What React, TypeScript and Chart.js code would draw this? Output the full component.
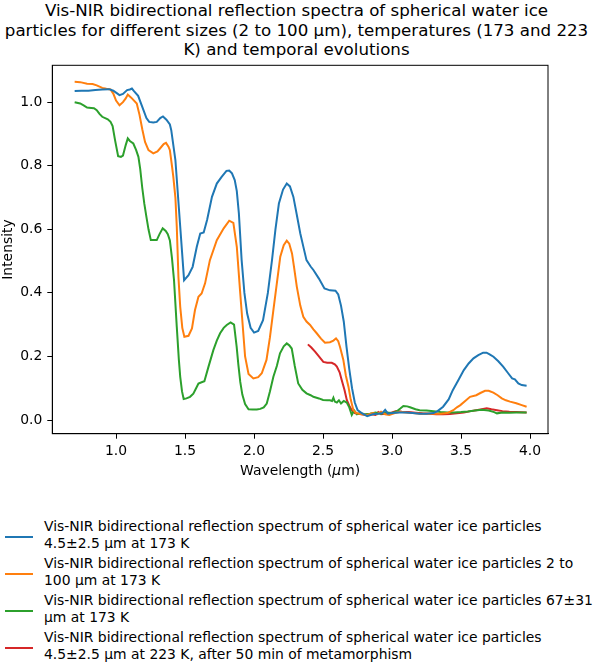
import React, { useEffect, useRef } from "react";
import { Chart, registerables } from "chart.js";
Chart.register(...registerables);

const FONT = "'DejaVu Sans', sans-serif";

const TITLE_LINES = [
  "Vis-NIR bidirectional reflection spectra of spherical water ice",
  "particles for different sizes (2 to 100 µm), temperatures (173 and 223",
  "K) and temporal evolutions",
];

const X_TICKS = [1.0, 1.5, 2.0, 2.5, 3.0, 3.5, 4.0];
const Y_TICKS = [0.0, 0.2, 0.4, 0.6, 0.8, 1.0];

const SERIES_LABELS = [
  "Vis-NIR bidirectional reflection spectrum of spherical water ice particles\n4.5±2.5 µm at 173 K",
  "Vis-NIR bidirectional reflection spectrum of spherical water ice particles 2 to\n100 µm at 173 K",
  "Vis-NIR bidirectional reflection spectrum of spherical water ice particles 67±31\nµm at 173 K",
  "Vis-NIR bidirectional reflection spectrum of spherical water ice particles\n4.5±2.5 µm at 223 K, after 50 min of metamorphism",
];
const SERIES_COLORS = ["#1f77b4", "#ff7f0e", "#2ca02c", "#d62728"];

const blueX = [0.70, 0.75, 0.80, 0.85, 0.90, 0.95, 0.98, 1.00, 1.025, 1.05, 1.08, 1.10, 1.115, 1.13, 1.16, 1.19, 1.22, 1.24, 1.27, 1.295, 1.32, 1.34, 1.365, 1.39, 1.40, 1.43, 1.465, 1.493, 1.525, 1.555, 1.585, 1.61, 1.635, 1.66, 1.695, 1.73, 1.765, 1.80, 1.82, 1.84, 1.86, 1.875, 1.89, 1.91, 1.93, 1.95, 1.975, 2.00, 2.03, 2.065, 2.10, 2.13, 2.155, 2.18, 2.21, 2.237, 2.26, 2.285, 2.31, 2.335, 2.36, 2.38, 2.41, 2.43, 2.47, 2.51, 2.55, 2.59, 2.61, 2.63, 2.65, 2.67, 2.69, 2.71, 2.73, 2.75, 2.78, 2.82, 2.86, 2.90, 2.93, 2.95, 2.97, 3.00, 3.05, 3.10, 3.15, 3.20, 3.25, 3.30, 3.33, 3.37, 3.41, 3.44, 3.48, 3.52, 3.555, 3.59, 3.625, 3.66, 3.685, 3.71, 3.735, 3.77, 3.805, 3.84, 3.87, 3.89, 3.915, 3.94, 3.975];
const blueY = [1.035, 1.036, 1.036, 1.038, 1.040, 1.041, 1.036, 1.030, 1.022, 1.026, 1.038, 1.040, 1.043, 1.035, 1.020, 0.985, 0.950, 0.938, 0.936, 0.938, 0.950, 0.955, 0.945, 0.930, 0.912, 0.818, 0.608, 0.440, 0.456, 0.482, 0.545, 0.587, 0.590, 0.630, 0.702, 0.744, 0.765, 0.784, 0.785, 0.776, 0.755, 0.720, 0.650, 0.503, 0.400, 0.335, 0.290, 0.275, 0.280, 0.314, 0.400, 0.503, 0.600, 0.681, 0.725, 0.744, 0.735, 0.702, 0.645, 0.587, 0.540, 0.503, 0.483, 0.472, 0.445, 0.414, 0.408, 0.407, 0.395, 0.360, 0.310, 0.230, 0.160, 0.100, 0.055, 0.031, 0.022, 0.012, 0.018, 0.020, 0.022, 0.032, 0.020, 0.022, 0.024, 0.024, 0.022, 0.020, 0.020, 0.022, 0.028, 0.042, 0.065, 0.094, 0.125, 0.157, 0.178, 0.194, 0.204, 0.212, 0.212, 0.206, 0.199, 0.185, 0.168, 0.148, 0.131, 0.128, 0.115, 0.110, 0.108];

const orangeX = [0.70, 0.74, 0.79, 0.83, 0.86, 0.90, 0.93, 0.96, 0.98, 1.00, 1.025, 1.05, 1.07, 1.085, 1.10, 1.115, 1.15, 1.17, 1.19, 1.21, 1.235, 1.27, 1.30, 1.32, 1.345, 1.362, 1.38, 1.39, 1.405, 1.415, 1.43, 1.44, 1.452, 1.465, 1.48, 1.495, 1.525, 1.55, 1.572, 1.597, 1.62, 1.645, 1.68, 1.73, 1.78, 1.82, 1.85, 1.875, 1.90, 1.935, 1.96, 1.995, 2.03, 2.056, 2.09, 2.115, 2.14, 2.165, 2.19, 2.215, 2.237, 2.255, 2.275, 2.29, 2.31, 2.335, 2.357, 2.38, 2.406, 2.43, 2.454, 2.485, 2.514, 2.55, 2.575, 2.594, 2.61, 2.623, 2.647, 2.665, 2.684, 2.70, 2.72, 2.74, 2.78, 2.82, 2.86, 2.89, 2.92, 2.95, 2.98, 3.02, 3.06, 3.10, 3.15, 3.20, 3.25, 3.30, 3.35, 3.40, 3.444, 3.47, 3.495, 3.53, 3.565, 3.61, 3.64, 3.674, 3.70, 3.734, 3.765, 3.795, 3.825, 3.855, 3.90, 3.94, 3.975];
const orangeY = [1.064, 1.063, 1.058, 1.057, 1.053, 1.045, 1.042, 1.040, 1.027, 1.005, 0.990, 1.000, 1.012, 1.024, 1.018, 1.012, 0.996, 0.960, 0.915, 0.875, 0.849, 0.839, 0.845, 0.855, 0.868, 0.872, 0.860, 0.849, 0.800, 0.765, 0.700, 0.608, 0.450, 0.356, 0.290, 0.262, 0.265, 0.288, 0.346, 0.388, 0.398, 0.430, 0.503, 0.566, 0.603, 0.627, 0.620, 0.545, 0.398, 0.200, 0.145, 0.131, 0.135, 0.147, 0.189, 0.260, 0.346, 0.430, 0.514, 0.550, 0.564, 0.555, 0.524, 0.480, 0.419, 0.360, 0.325, 0.310, 0.299, 0.285, 0.273, 0.256, 0.243, 0.245, 0.250, 0.257, 0.248, 0.230, 0.189, 0.140, 0.105, 0.065, 0.031, 0.022, 0.018, 0.016, 0.022, 0.018, 0.026, 0.018, 0.016, 0.022, 0.026, 0.024, 0.022, 0.020, 0.020, 0.020, 0.020, 0.022, 0.031, 0.040, 0.047, 0.060, 0.073, 0.078, 0.085, 0.092, 0.092, 0.086, 0.078, 0.068, 0.062, 0.058, 0.053, 0.047, 0.042];

const greenX = [0.70, 0.74, 0.765, 0.79, 0.82, 0.84, 0.86, 0.88, 0.90, 0.94, 0.96, 0.975, 0.993, 1.015, 1.035, 1.05, 1.07, 1.085, 1.10, 1.125, 1.145, 1.162, 1.175, 1.19, 1.205, 1.22, 1.235, 1.252, 1.275, 1.295, 1.315, 1.338, 1.36, 1.375, 1.39, 1.405, 1.42, 1.44, 1.455, 1.465, 1.478, 1.49, 1.51, 1.536, 1.56, 1.58, 1.597, 1.62, 1.64, 1.67, 1.705, 1.73, 1.754, 1.78, 1.802, 1.83, 1.855, 1.874, 1.886, 1.90, 1.915, 1.935, 1.96, 1.99, 2.02, 2.045, 2.07, 2.092, 2.115, 2.14, 2.165, 2.188, 2.215, 2.237, 2.255, 2.273, 2.295, 2.32, 2.35, 2.38, 2.41, 2.43, 2.47, 2.50, 2.53, 2.55, 2.565, 2.575, 2.585, 2.60, 2.615, 2.63, 2.65, 2.672, 2.69, 2.708, 2.725, 2.745, 2.77, 2.80, 2.84, 2.88, 2.92, 2.96, 3.00, 3.03, 3.06, 3.082, 3.11, 3.13, 3.17, 3.20, 3.25, 3.30, 3.35, 3.40, 3.45, 3.50, 3.55, 3.60, 3.65, 3.70, 3.74, 3.76, 3.80, 3.85, 3.90, 3.975];
const greenY = [1.000, 0.996, 0.990, 0.983, 0.982, 0.981, 0.975, 0.963, 0.954, 0.946, 0.938, 0.925, 0.880, 0.830, 0.828, 0.832, 0.865, 0.886, 0.878, 0.870, 0.850, 0.828, 0.790, 0.730, 0.680, 0.639, 0.600, 0.566, 0.566, 0.566, 0.585, 0.603, 0.595, 0.585, 0.565, 0.510, 0.440, 0.293, 0.190, 0.136, 0.090, 0.066, 0.068, 0.073, 0.083, 0.100, 0.115, 0.119, 0.122, 0.168, 0.220, 0.250, 0.273, 0.290, 0.299, 0.307, 0.300, 0.230, 0.175, 0.120, 0.080, 0.050, 0.034, 0.033, 0.033, 0.035, 0.040, 0.052, 0.090, 0.136, 0.170, 0.210, 0.232, 0.241, 0.235, 0.225, 0.170, 0.115, 0.095, 0.084, 0.078, 0.073, 0.068, 0.063, 0.062, 0.062, 0.060, 0.070, 0.058, 0.055, 0.062, 0.052, 0.060, 0.055, 0.040, 0.016, 0.030, 0.018, 0.022, 0.018, 0.020, 0.024, 0.020, 0.024, 0.022, 0.026, 0.036, 0.044, 0.043, 0.040, 0.034, 0.031, 0.030, 0.028, 0.025, 0.024, 0.024, 0.025, 0.027, 0.030, 0.032, 0.030, 0.025, 0.021, 0.024, 0.023, 0.024, 0.024];

const redX = [2.39, 2.415, 2.442, 2.47, 2.502, 2.53, 2.563, 2.585, 2.60, 2.62, 2.635, 2.655, 2.672, 2.69, 2.708, 2.73, 2.75, 2.78, 2.81, 2.85, 2.88, 2.90, 2.92, 2.95, 2.99, 3.03, 3.07, 3.12, 3.17, 3.22, 3.27, 3.32, 3.37, 3.42, 3.47, 3.52, 3.57, 3.61, 3.65, 3.686, 3.72, 3.76, 3.80, 3.85, 3.90, 3.975];
const redY = [0.238, 0.228, 0.215, 0.200, 0.183, 0.180, 0.180, 0.175, 0.168, 0.150, 0.126, 0.095, 0.063, 0.045, 0.031, 0.022, 0.020, 0.018, 0.016, 0.018, 0.016, 0.025, 0.018, 0.020, 0.022, 0.028, 0.026, 0.025, 0.023, 0.021, 0.020, 0.018, 0.018, 0.019, 0.021, 0.024, 0.028, 0.031, 0.034, 0.037, 0.034, 0.031, 0.028, 0.026, 0.025, 0.024];

const SERIES_X = [blueX, orangeX, greenX, redX];
const SERIES_Y = [blueY, orangeY, greenY, redY];

const X_MIN = 0.538;
const X_MAX = 4.13;
const Y_MIN = -0.043;
const Y_MAX = 1.116;

const W = 593;
const CANVAS_H = 470;
const PLOT_LEFT = 52.3;
const PLOT_RIGHT = 548;
const PLOT_TOP = 65.3;
const PLOT_BOTTOM = 433.7;

export default function App() {
  const ref = useRef<HTMLCanvasElement>(null);

  useEffect(() => {
    document.body.style.margin = "0";
    const canvas = ref.current;
    if (!canvas) return;
    const frame = {
      id: "frame",
      afterDraw(chart: any) {
        const { ctx, chartArea: a } = chart;
        ctx.save();
        ctx.strokeStyle = "#000";
        ctx.lineWidth = 1;
        ctx.strokeRect(a.left, a.top, a.right - a.left, a.bottom - a.top);
        ctx.restore();
      },
    };
    const tickFont = { family: FONT, size: 13.9 };
    const chart = new Chart(canvas, {
      type: "line",
      data: {
        datasets: SERIES_X.map((xs, i) => ({
          label: SERIES_LABELS[i],
          data: xs.map((x, j) => ({ x, y: SERIES_Y[i][j] })),
          borderColor: SERIES_COLORS[i],
          backgroundColor: SERIES_COLORS[i],
          borderWidth: 2,
          pointRadius: 0,
          tension: 0,
          fill: false,
        })),
      },
      options: {
        responsive: false,
        animation: false,
        layout: { padding: { left: 0, right: W - PLOT_RIGHT, top: PLOT_TOP, bottom: 0 } },
        plugins: {
          legend: { display: false },
          tooltip: { enabled: false },
          title: { display: false },
        },
        scales: {
          x: {
            type: "linear",
            min: X_MIN,
            max: X_MAX,
            afterBuildTicks: (scale: any) => {
              scale.ticks = X_TICKS.map((value) => ({ value }));
            },
            afterFit: (scale: any) => {
              scale.height = CANVAS_H - PLOT_BOTTOM;
            },
            grid: { drawOnChartArea: false, drawTicks: true, tickLength: 5, color: "#000" },
            border: { color: "#000", width: 1 },
            ticks: {
              color: "#000",
              font: tickFont,
              padding: 4,
              maxRotation: 0,
              autoSkip: false,
              callback: (v: any) => Number(v).toFixed(1),
            },
          },
          y: {
            type: "linear",
            min: Y_MIN,
            max: Y_MAX,
            afterBuildTicks: (scale: any) => {
              scale.ticks = Y_TICKS.map((value) => ({ value }));
            },
            afterFit: (scale: any) => {
              scale.width = PLOT_LEFT;
            },
            grid: { drawOnChartArea: false, drawTicks: true, tickLength: 5, color: "#000" },
            border: { color: "#000", width: 1 },
            title: {
              display: true,
              text: "Intensity",
              color: "#000",
              font: { family: FONT, size: 13.9 },
              padding: 0,
            },
            ticks: {
              color: "#000",
              font: tickFont,
              padding: 5,
              autoSkip: false,
              callback: (v: any) => Number(v).toFixed(1),
            },
          },
        },
      },
      plugins: [frame],
    } as any);
    return () => chart.destroy();
  }, []);

  return (
    <div style={{ position: "absolute", left: 0, top: 0, width: W, height: 663, background: "#fff", fontFamily: FONT, color: "#000" }}>
      <div style={{ position: "absolute", left: 0, top: 1, width: W, textAlign: "center", fontSize: 16.67, lineHeight: "19.5px", whiteSpace: "nowrap" }}>
        {TITLE_LINES.map((t, i) => (
          <div key={i}>{t}</div>
        ))}
      </div>
      <canvas ref={ref} width={W} height={CANVAS_H} style={{ position: "absolute", left: 0, top: 0, width: W, height: CANVAS_H }} />
      <div style={{ position: "absolute", left: PLOT_LEFT, width: PLOT_RIGHT - PLOT_LEFT, top: 462, textAlign: "center", fontSize: 13.9, lineHeight: "17px", whiteSpace: "nowrap" }}>
        Wavelength (<i>μ</i>m)
      </div>
      {SERIES_LABELS.map((lab, i) => (
        <div key={i}>
          <div style={{ position: "absolute", left: 5, width: 28, height: 2, top: 535.7 + i * 37, background: SERIES_COLORS[i] }} />
          <div style={{ position: "absolute", left: 44, top: 518.3 + i * 37, fontSize: 13.9, lineHeight: "16.7px", whiteSpace: "pre" }}>
            {lab}
          </div>
        </div>
      ))}
    </div>
  );
}
